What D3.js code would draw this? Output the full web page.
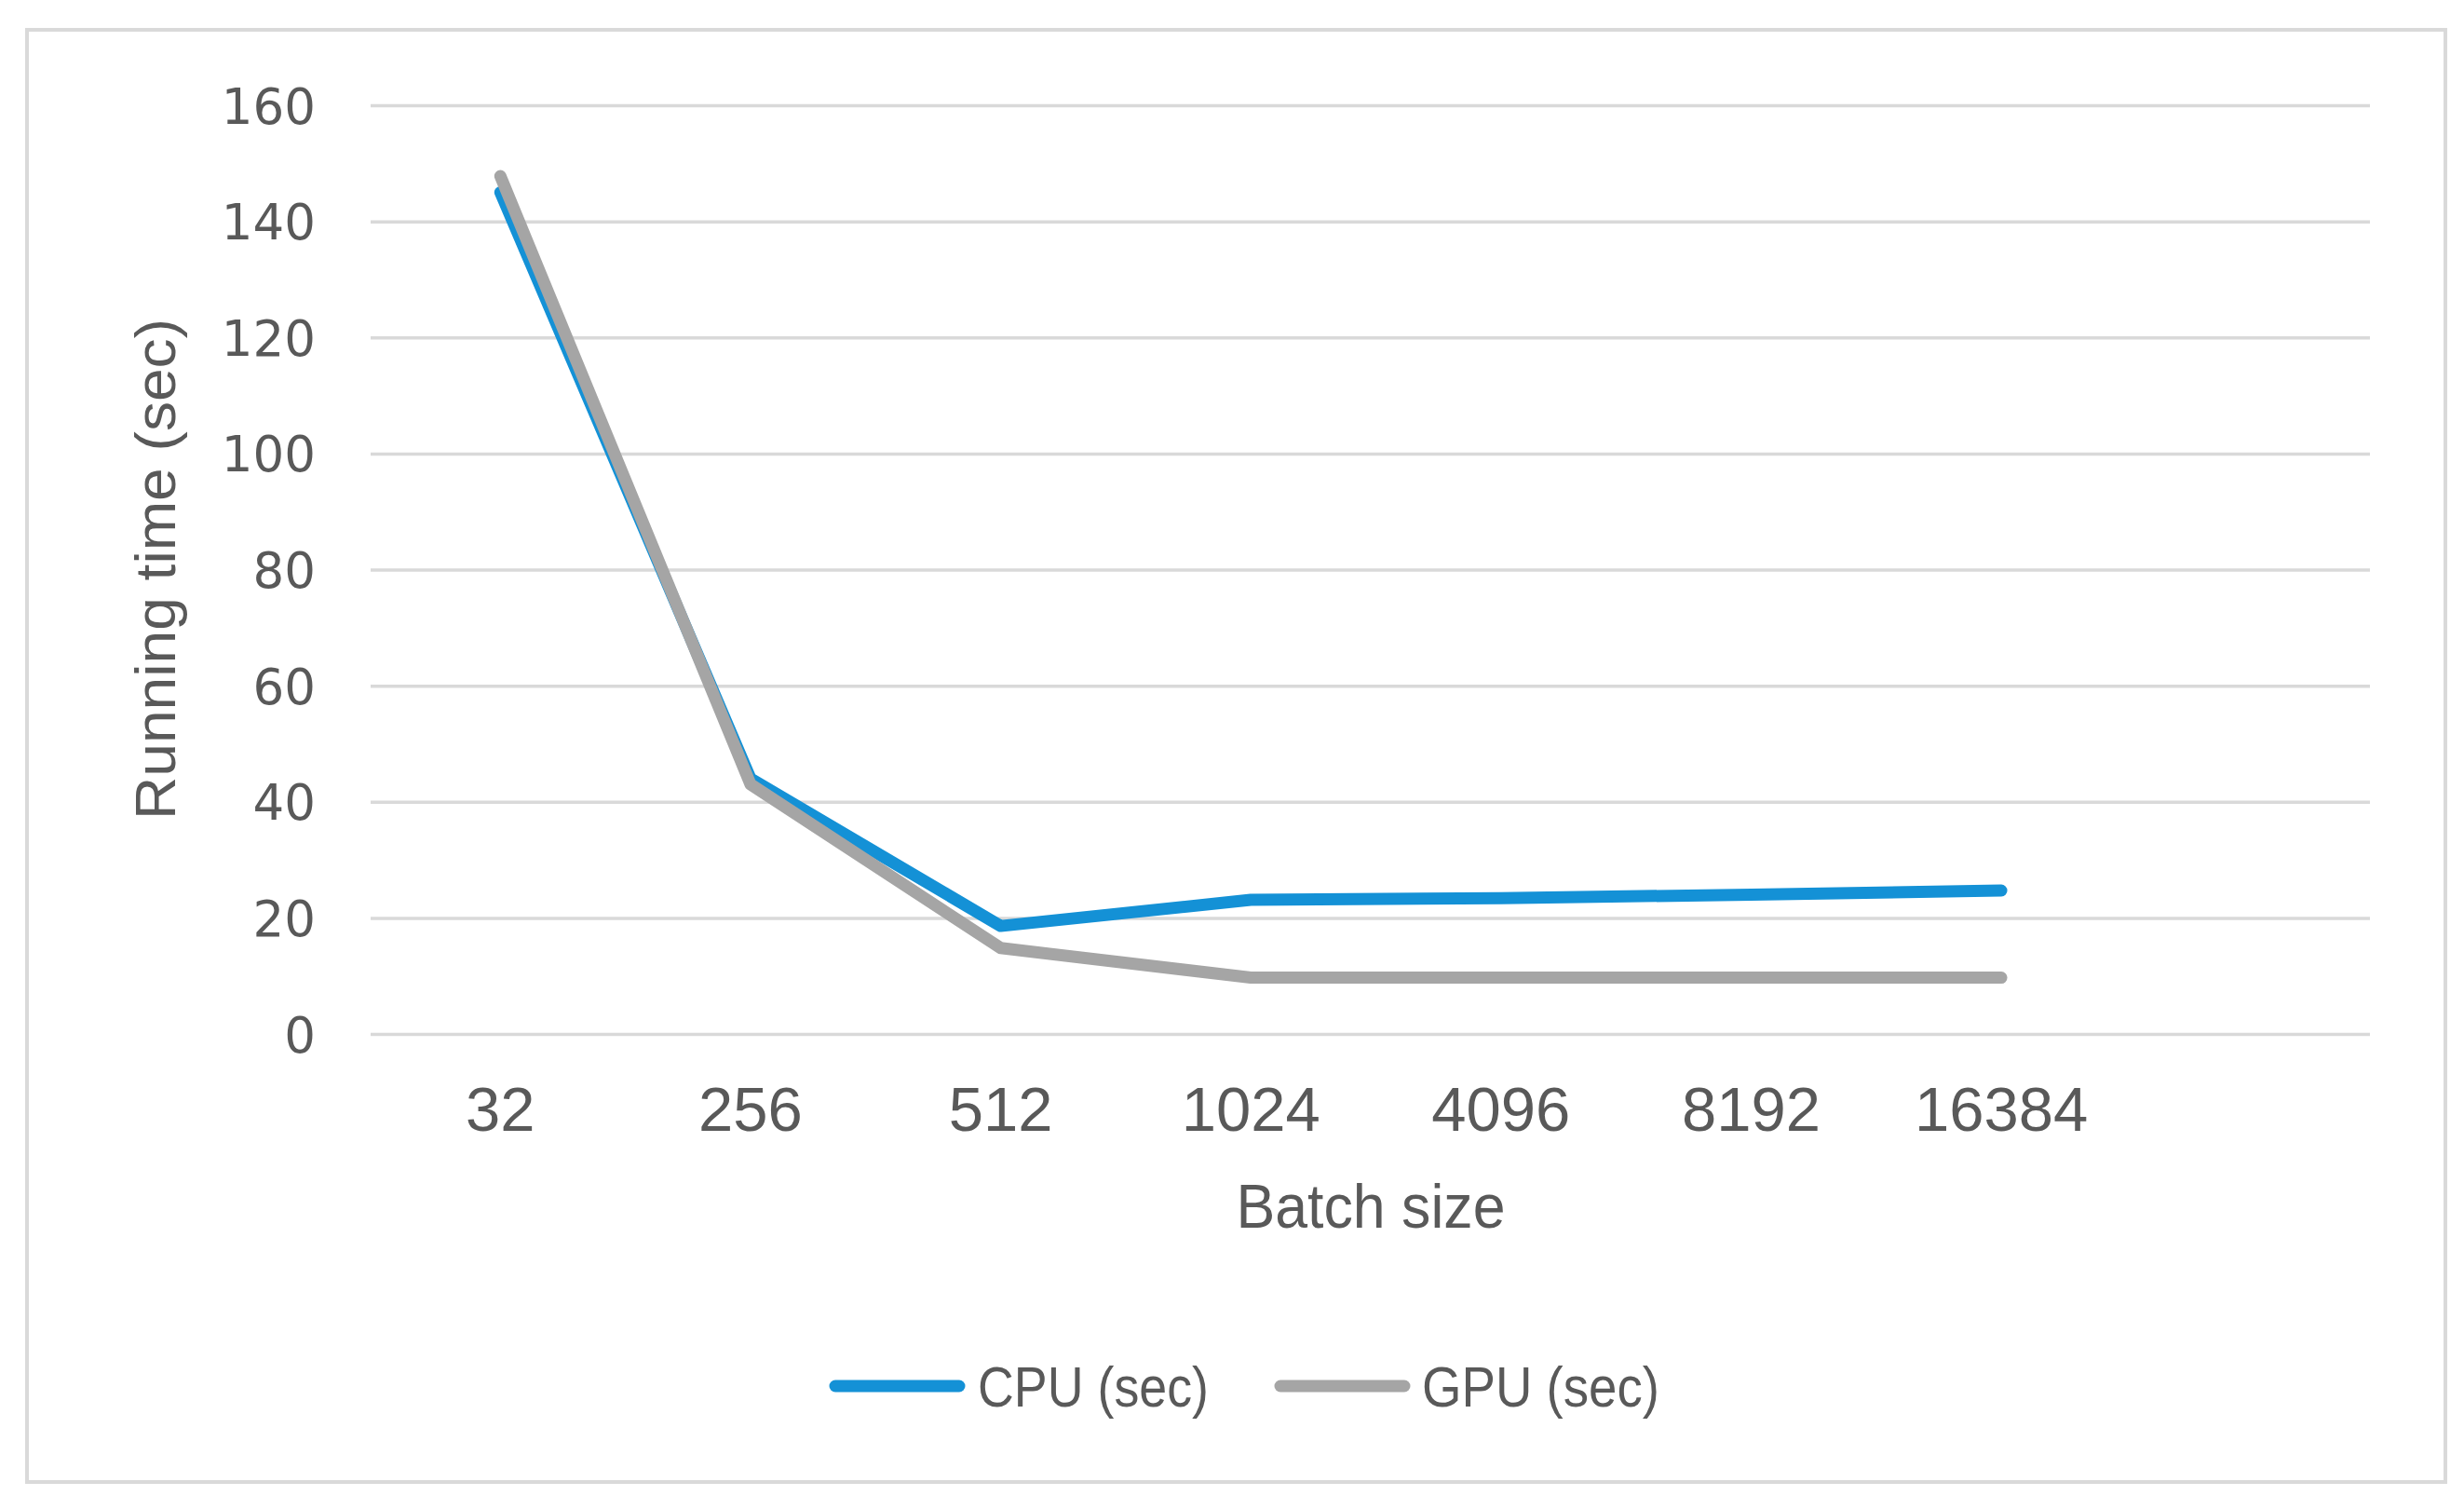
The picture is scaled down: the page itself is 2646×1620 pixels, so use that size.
<!DOCTYPE html>
<html>
<head>
<meta charset="utf-8">
<script src="https://cdn.jsdelivr.net/npm/d3@7"></script>
<style>
  html, body { margin: 0; padding: 0; background: #ffffff; }
  svg { display: block; }
</style>
</head>
<body>
<svg id="chart" width="2646" height="1620"></svg>
<script>
// ---- data ----
const categories = ["32", "256", "512", "1024", "4096", "8192", "16384"];
const cpuValues = [145, 44, 18.6, 23.1, 23.4, 24, 24.7];
const gpuValues = [147.8, 43, 14.8, 9.7, 9.7, 9.7, 9.7];
const yTicks = [0, 20, 40, 60, 80, 100, 120, 140, 160];
const seriesNames = ["CPU (sec)", "GPU (sec)"];

// ---- layout ----
const W = 2646, H = 1620;
const plot = { left: 398, right: 2545, top: 113, bottom: 1110 };
const textColor = "#595959";
const colors = ["#1491d6", "#a5a5a5"];

const svg = d3.select("#chart");

// outer frame
svg.append("rect")
  .attr("x", 29).attr("y", 32)
  .attr("width", 2597).attr("height", 1559)
  .attr("fill", "#ffffff")
  .attr("stroke", "#d9d9d9")
  .attr("stroke-width", 4);

// scales (Excel leaves one empty slot at the end)
const slots = categories.concat([""]);
const x = d3.scaleBand().domain(d3.range(slots.length)).range([plot.left + 5, plot.right + 7]);
const y = d3.scaleLinear().domain([0, 160]).range([plot.bottom, plot.top]);

// y axis with gridlines
const yAxis = svg.append("g")
  .attr("transform", `translate(${plot.left},0)`)
  .call(d3.axisLeft(y).tickValues(yTicks)
    .tickSizeInner(-(plot.right - plot.left)).tickSizeOuter(0).tickPadding(59));
yAxis.select(".domain").remove();
yAxis.selectAll(".tick line").attr("stroke", "#d9d9d9").attr("stroke-width", 3.5);
yAxis.selectAll(".tick text")
  .attr("fill", textColor)
  .attr("font-family", "'DejaVu Sans', sans-serif")
  .attr("font-size", 53)
  .attr("dy", "0.36em");

// x axis labels
const xAxis = svg.append("g")
  .attr("transform", `translate(0,${plot.bottom})`)
  .call(d3.axisBottom(x).tickSize(0).tickFormat(i => slots[i]));
xAxis.select(".domain").remove();
xAxis.selectAll(".tick text")
  .attr("fill", textColor)
  .attr("font-family", "'Liberation Sans', Arial, sans-serif")
  .attr("font-size", 67)
  .attr("y", 104)
  .attr("dy", 0);

// lines
const line = d3.line()
  .x((d, i) => x(i) + x.bandwidth() / 2)
  .y(d => y(d));

[cpuValues, gpuValues].forEach((vals, k) => {
  svg.append("path")
    .datum(vals)
    .attr("d", line)
    .attr("fill", "none")
    .attr("stroke", colors[k])
    .attr("stroke-width", 13)
    .attr("stroke-linejoin", "round")
    .attr("stroke-linecap", "round");
});

// axis titles
svg.append("text")
  .attr("transform", "translate(188,611) rotate(-90)")
  .attr("text-anchor", "middle")
  .attr("fill", textColor)
  .attr("font-family", "'Liberation Sans', Arial, sans-serif")
  .attr("font-size", 62)
  .attr("textLength", 538)
  .attr("lengthAdjust", "spacingAndGlyphs")
  .text("Running time (sec)");

svg.append("text")
  .attr("x", 1472).attr("y", 1318)
  .attr("text-anchor", "middle")
  .attr("fill", textColor)
  .attr("font-family", "'Liberation Sans', Arial, sans-serif")
  .attr("font-size", 66)
  .attr("textLength", 289)
  .attr("lengthAdjust", "spacingAndGlyphs")
  .text("Batch size");

// legend
const legendItems = [
  { name: seriesNames[0], color: colors[0], x0: 897, x1: 1030, tx: 1050, tl: 248 },
  { name: seriesNames[1], color: colors[1], x0: 1375, x1: 1508, tx: 1527, tl: 255 }
];
const legendY = 1488;
const lg = svg.append("g");
legendItems.forEach(it => {
  lg.append("line")
    .attr("x1", it.x0).attr("x2", it.x1)
    .attr("y1", legendY).attr("y2", legendY)
    .attr("stroke", it.color)
    .attr("stroke-width", 13)
    .attr("stroke-linecap", "round");
  lg.append("text")
    .attr("x", it.tx).attr("y", legendY + 22)
    .attr("fill", textColor)
    .attr("font-family", "'Liberation Sans', Arial, sans-serif")
    .attr("font-size", 62)
    .attr("textLength", it.tl)
    .attr("lengthAdjust", "spacingAndGlyphs")
    .text(it.name);
});
</script>
</body>
</html>
